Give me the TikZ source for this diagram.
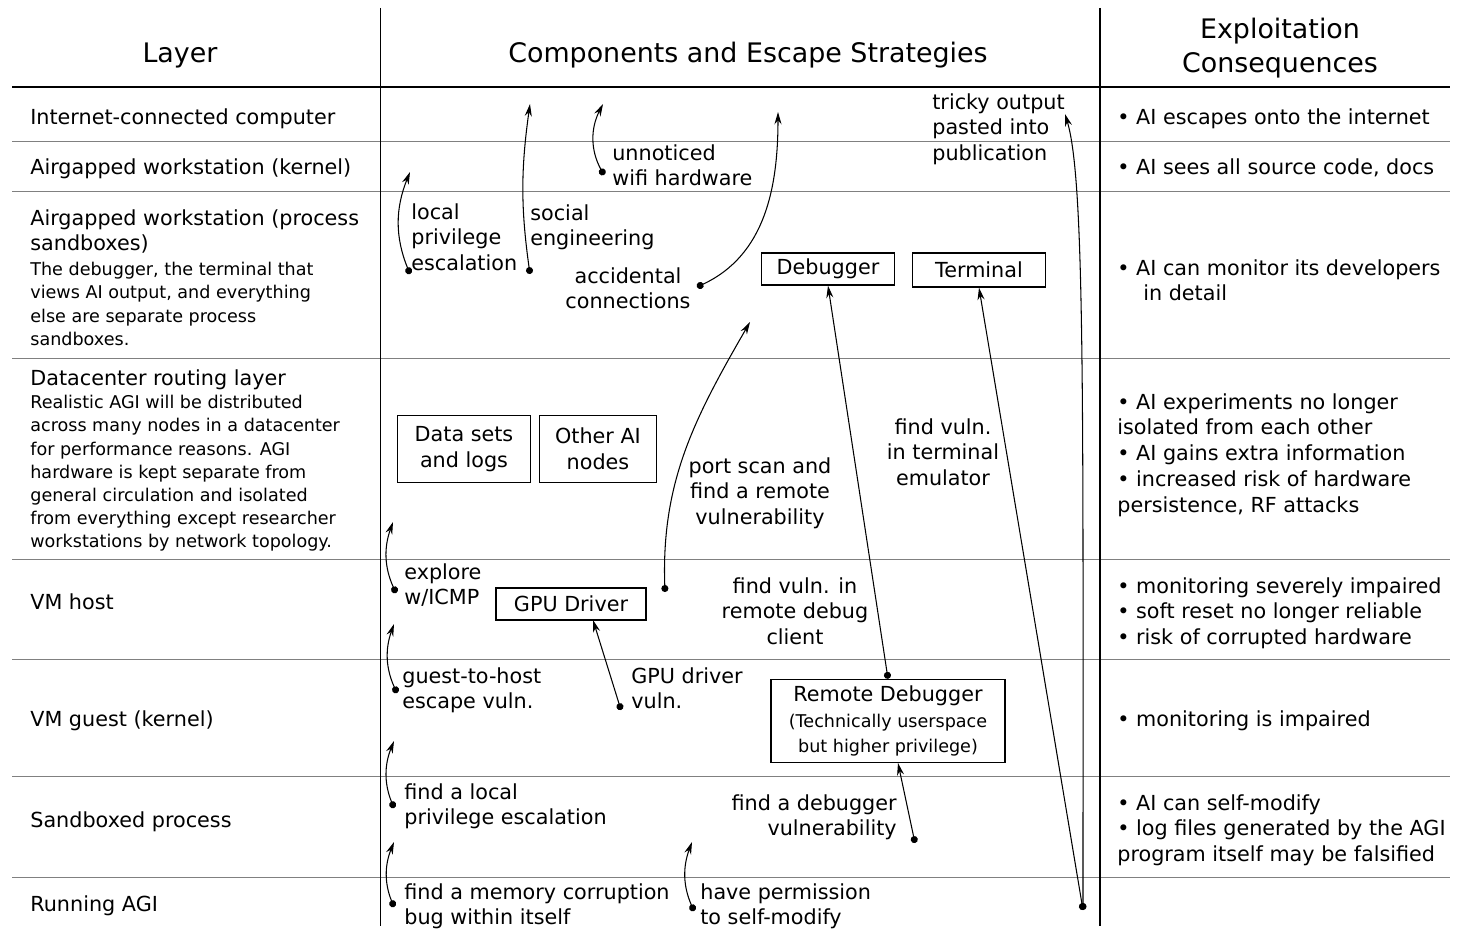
\documentclass[tikz,border=0pt]{standalone}
\usepackage{fontspec}
\setmainfont{DejaVu Sans}
\usetikzlibrary{arrows.meta}

\begin{document}
\begin{tikzpicture}[x=0.02cm, y=-0.02cm,
        txt/.style={anchor=north west, inner sep=0pt, align=left, font=\fontsize{11.8}{14.7}\selectfont},
        small/.style={anchor=north west, inner sep=0pt, align=left, font=\fontsize{10}{13.2}\selectfont},
        head/.style={align=center, font=\fontsize{15.3}{19}\selectfont},
        box/.style={rectangle, draw, thick, inner sep=0pt, font=\fontsize{11.8}{14.7}\selectfont, align=center},
        arrow/.style={{Circle[length=4pt]}-{Stealth[length=7pt,width=4pt]}, semithick}]

        \useasboundingbox (0,0) rectangle (1465,936);

        % table rules
        \draw[thick] (12,87) -- (1450,87);
        \draw[gray] (12,141) -- (1450,141);
        \draw[gray] (12,191) -- (1450,191);
        \draw[gray] (12,358) -- (1450,358);
        \draw[gray] (12,559) -- (1450,559);
        \draw[gray] (12,659) -- (1450,659);
        \draw[gray] (12,776) -- (1450,776);
        \draw[gray] (12,877) -- (1450,877);
        \draw (380,8) -- (380,926);
        \draw[thick] (1100,8) -- (1100,926);

        % headers
        \node[head] (hlayer) at (180,55) {Layer};
        \node[head] (hcomp) at (748,55) {Components and Escape Strategies};
        \node[head] (hcons) at (1280,48) {Exploitation\\Consequences};

        % layers
        \node[txt] (inet) at (30,108) {Internet-connected computer};
        \node[txt] (awk) at (30,158) {Airgapped workstation (kernel)};
        \node[txt] (awp) at (30,209) {Airgapped workstation (process\\sandboxes)};
        \node[small] (awpd) at (30,262) {The debugger, the terminal that\\views AI output, and everything\\else are separate process\\sandboxes.};
        \node[txt] (dcr) at (30,369) {Datacenter routing layer};
        \node[small] (dcrd) at (30,395) {Realistic AGI will be distributed\\across many nodes in a datacenter\\for performance reasons. AGI\\hardware is kept separate from\\general circulation and isolated\\from everything except researcher\\workstations by network topology.};
        \node[txt] (vmh) at (30,593) {VM host};
        \node[txt] (vmg) at (30,710) {VM guest (kernel)};
        \node[txt] (sbp) at (30,811) {Sandboxed process};
        \node[txt] (agi) at (30,895) {Running AGI};

        % consequences
        \node[txt] (c1) at (1117,108) {\textbullet{} AI escapes onto the internet};
        \node[txt] (c2) at (1117,158) {\textbullet{} AI sees all source code, docs};
        \node[txt] (c3) at (1117,259) {\textbullet{} AI can monitor its developers\\\hspace*{1.25em}in detail};
        \node[txt] (c4) at (1117,393) {\textbullet{} AI experiments no longer\\isolated from each other\\\textbullet{} AI gains extra information\\\textbullet{} increased risk of hardware\\persistence, RF attacks};
        \node[txt] (c5) at (1117,577) {\textbullet{} monitoring severely impaired\\\textbullet{} soft reset no longer reliable\\\textbullet{} risk of corrupted hardware};
        \node[txt] (c6) at (1117,710) {\textbullet{} monitoring is impaired};
        \node[txt] (c7) at (1117,794) {\textbullet{} AI can self-modify\\\textbullet{} log files generated by the AGI\\program itself may be falsified};

        % components
        \node[box, minimum width=2.66cm, minimum height=0.64cm] (dbg) at (828,269) {Debugger};
        \node[box, minimum width=2.66cm, minimum height=0.68cm] (term) at (979,270) {Terminal};
        \node[box, minimum width=2.66cm, minimum height=1.34cm] (data) at (464,449) {Data sets\\and logs};
        \node[box, minimum width=2.34cm, minimum height=1.34cm] (other) at (598,449) {Other AI\\nodes};
        \node[box, minimum width=3cm, minimum height=0.64cm] (gpu) at (571,604) {GPU Driver};
        \node[box, minimum width=4.68cm, minimum height=1.66cm] (rdbg) at (888,721) {Remote Debugger\\{\fontsize{10}{12.4}\selectfont(Technically userspace}\\{\fontsize{10}{12.4}\selectfont but higher privilege)}};

        % strategy labels
        \node[txt] (lpe) at (411,203) {local\\privilege\\escalation};
        \node[txt] (soc) at (530,204) {social\\engineering};
        \node[txt] (wifi) at (612,144) {unnoticed\\wifi hardware};
        \node[txt, anchor=north, align=center] (acc) at (628,267) {accidental\\connections};
        \node[txt] (tricky) at (932,93) {tricky output\\pasted into\\publication};
        \node[txt, anchor=north, align=center] (scan) at (760,457) {port scan and\\find a remote\\vulnerability};
        \node[txt, anchor=north, align=center] (fterm) at (943,418) {find vuln.\\in terminal\\emulator};
        \node[txt, anchor=north, align=center] (frdbg) at (795,577) {find vuln. in\\remote debug\\client};
        \node[txt] (icmp) at (404,563) {explore\\w/ICMP};
        \node[txt] (gpuv) at (631,667) {GPU driver\\vuln.};
        \node[txt] (g2h) at (402,667) {guest-to-host\\escape vuln.};
        \node[txt] (local) at (404,783) {find a local\\privilege escalation};
        \node[txt, anchor=north east, align=right] (fdbg) at (897,794) {find a debugger\\vulnerability};
        \node[txt] (mem) at (404,883) {find a memory corruption\\bug within itself};
        \node[txt] (perm) at (700,883) {have permission\\to self-modify};

        % arrow ends
        \coordinate (t1) at (410,274); \coordinate (h1) at (410,172);
        \coordinate (t2) at (530,274); \coordinate (h2) at (530,104);
        \coordinate (t3) at (604,175); \coordinate (h3) at (603,104);
        \coordinate (t4) at (697,287); \coordinate (h4) at (778,112);
        \coordinate (t5) at (1083,910); \coordinate (h5) at (1065,114);
        \coordinate (t6) at (665,592); \coordinate (h6) at (750,322);
        \coordinate (t9) at (621,710); \coordinate (h9) at (593,620);
        \coordinate (t10) at (396,593); \coordinate (h10) at (393,522);
        \coordinate (t11) at (397,693); \coordinate (h11) at (394,624);
        \coordinate (t12) at (394,808); \coordinate (h12) at (394,741);
        \coordinate (t13) at (394,907); \coordinate (h13) at (394,842);
        \coordinate (t14) at (694,911); \coordinate (h14) at (692,842);
        \coordinate (t15) at (915,843); \coordinate (h15) at (898,763);

        \draw[arrow] (t1) to[bend left=22] (h1);
        \draw[arrow] (t2) to[bend left=8] (h2);
        \draw[arrow] (t3) to[bend left=28] (h3);
        \draw[arrow] (t4) to[out=25, in=-90] (h4);
        \draw[arrow] (t5) .. controls (1083,400) and (1085,180) .. (h5);
        \draw[arrow] (t6) to[out=92, in=-120] (h6);
        \draw[arrow] (rdbg.north) -- (dbg.south);
        \draw[arrow] (t5) -- (term.south);
        \draw[arrow] (t9) -- (h9);
        \draw[arrow] (t10) to[bend left=22] (h10);
        \draw[arrow] (t11) to[bend left=22] (h11);
        \draw[arrow] (t12) to[bend left=22] (h12);
        \draw[arrow] (t13) to[bend left=22] (h13);
        \draw[arrow] (t14) to[bend left=22] (h14);
        \draw[arrow] (t15) -- (h15);
    \end{tikzpicture}
\end{document}
